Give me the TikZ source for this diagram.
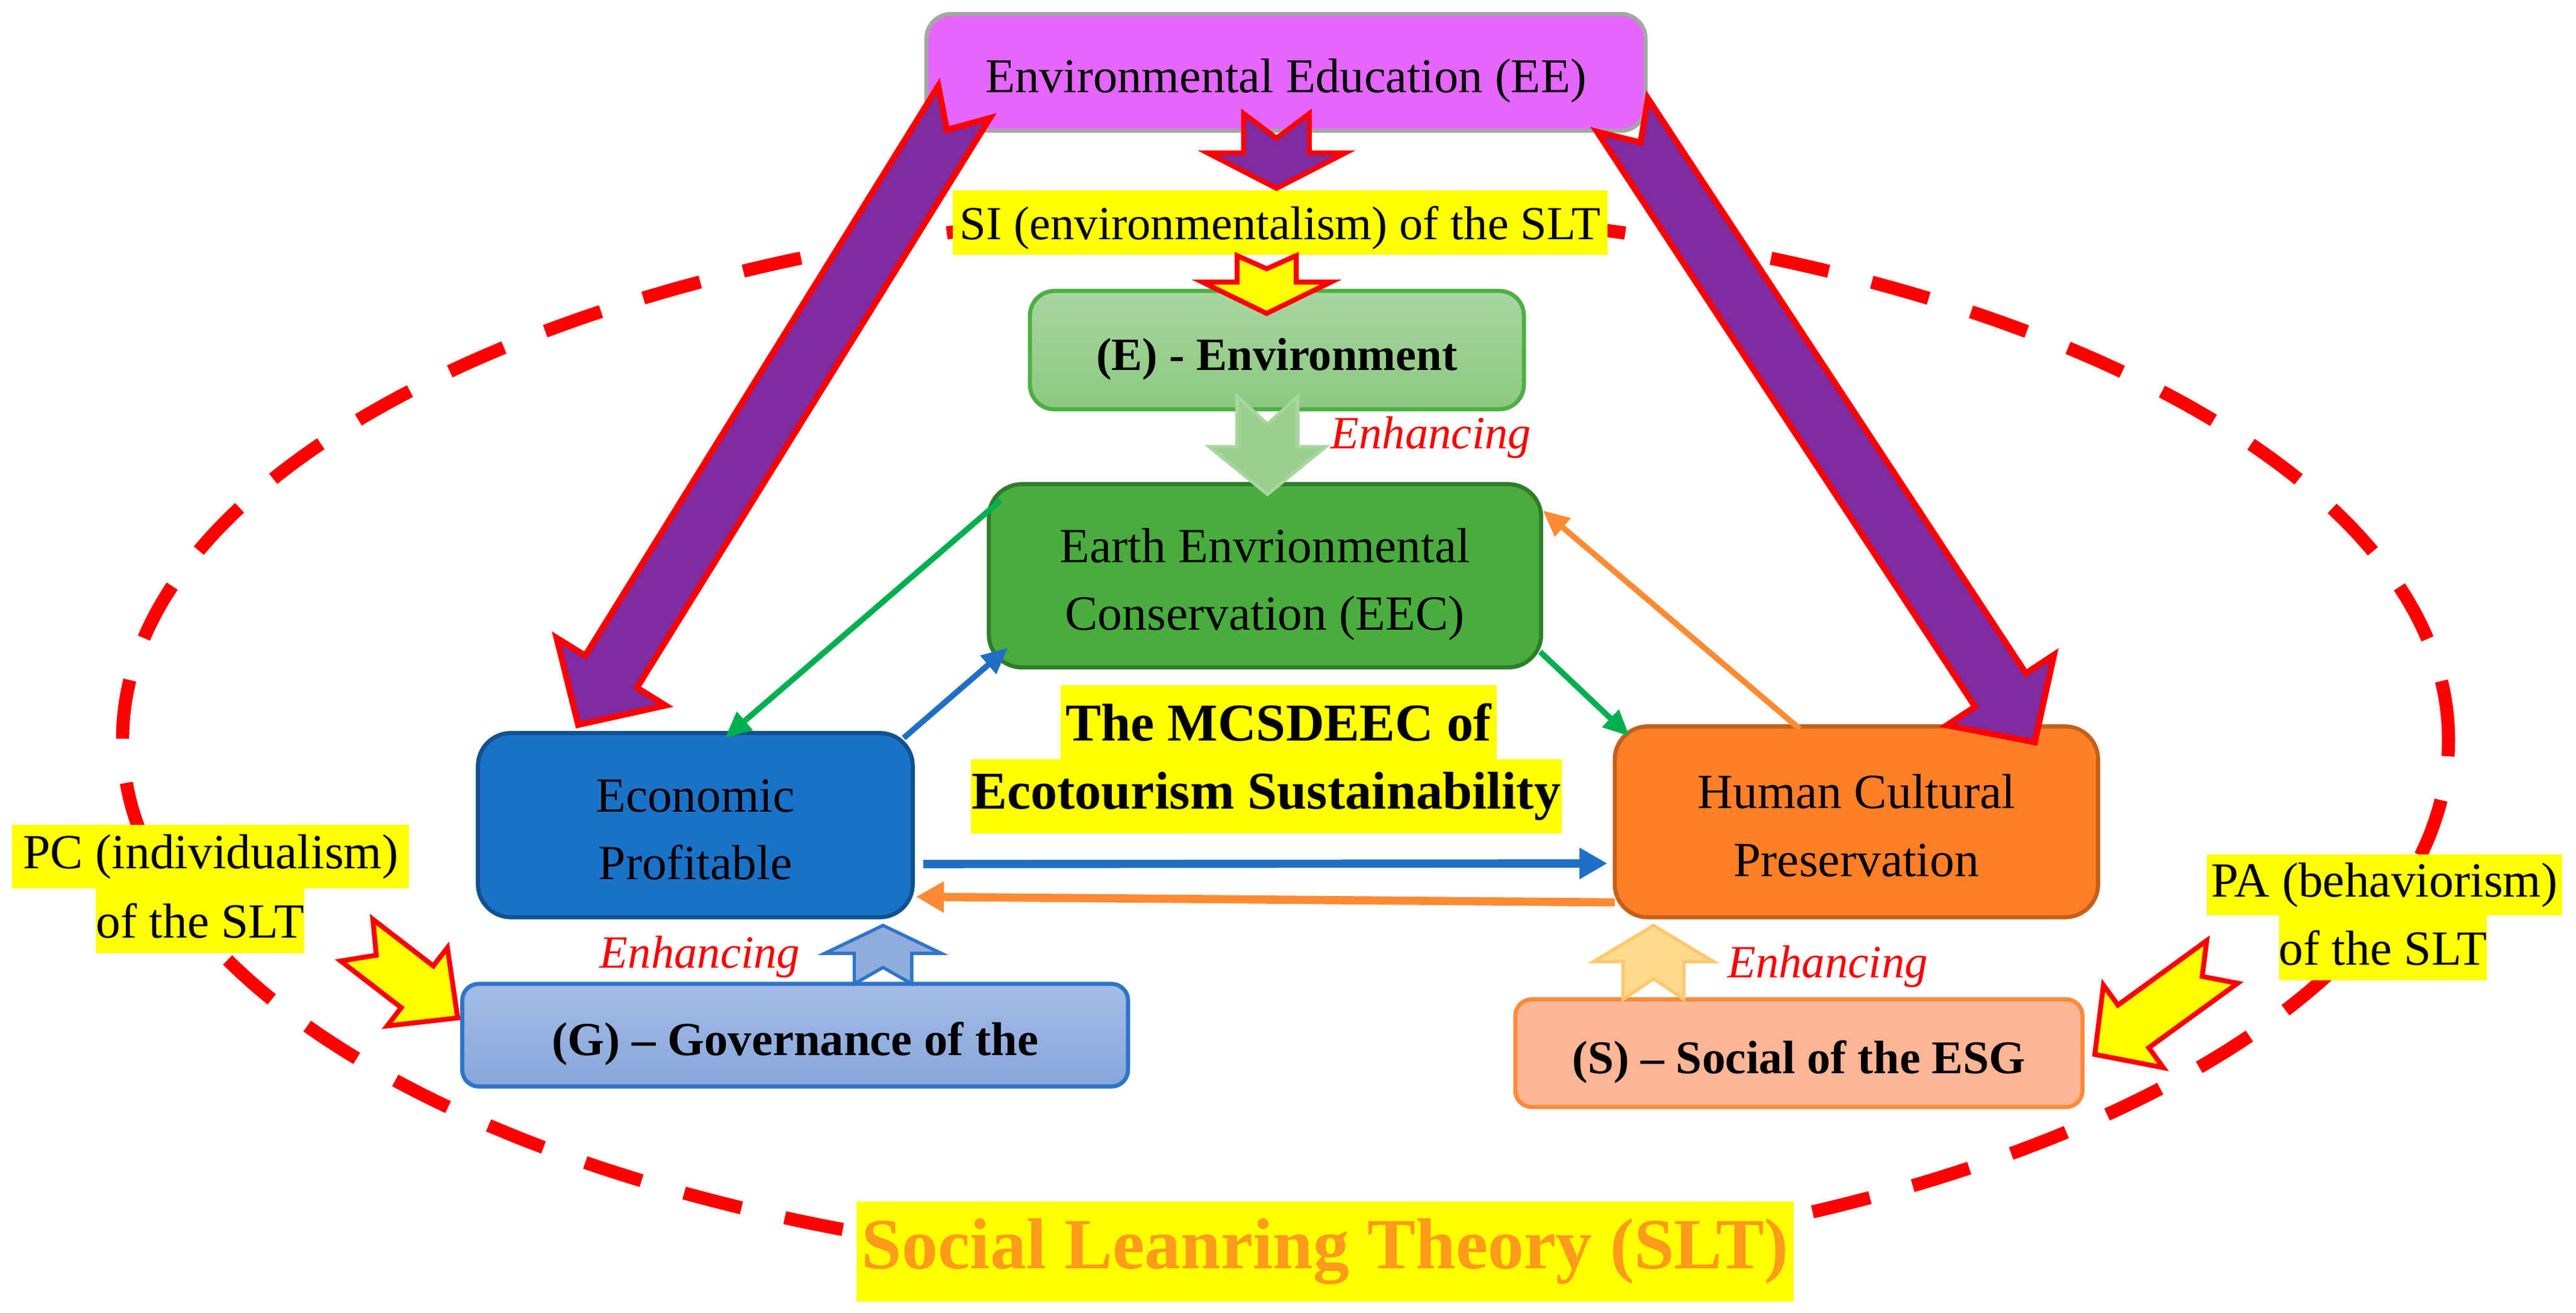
\documentclass[tikz,border=0pt]{standalone}
\usepackage{fontspec}
\IfFontExistsTF{LiberationSerif-Regular.ttf}
  {\setmainfont{LiberationSerif}[Extension=.ttf, UprightFont=*-Regular, BoldFont=*-Bold, ItalicFont=*-Italic, BoldItalicFont=*-BoldItalic]}
  {\setmainfont{Liberation Serif}}
\usepackage{tikz}
\usetikzlibrary{positioning,calc,arrows.meta}

\definecolor{eefill}{HTML}{E466FC}
\definecolor{eeline}{HTML}{A6A6A6}
\definecolor{arrpurple}{HTML}{7E2CA0}
\definecolor{hlyellow}{HTML}{FFFF00}
\definecolor{envtop}{HTML}{A9D5A0}
\definecolor{envbottom}{HTML}{8BC97F}
\definecolor{envline}{HTML}{4CAF43}
\definecolor{envarrow}{HTML}{9BCF8E}
\definecolor{eecfill}{HTML}{48AD3C}
\definecolor{eecline}{HTML}{2E7D2A}
\definecolor{econfill}{HTML}{1A72C8}
\definecolor{econline}{HTML}{10528F}
\definecolor{humfill}{HTML}{FF7F27}
\definecolor{humline}{HTML}{C5601A}
\definecolor{govtop}{HTML}{A4BCE5}
\definecolor{govbottom}{HTML}{87A6DB}
\definecolor{govline}{HTML}{2E75C9}
\definecolor{socfill}{HTML}{FDB596}
\definecolor{socline}{HTML}{FF8A3A}
\definecolor{govarrow}{HTML}{90ACDD}
\definecolor{socarrow}{HTML}{FFD98C}
\definecolor{lngreen}{HTML}{00B050}
\definecolor{lnblue}{HTML}{1F6FC6}
\definecolor{lnorange}{HTML}{FF8A33}
\definecolor{sltorange}{HTML}{FF9A1A}

\tikzstyle{box} = [rectangle, rounded corners=0.15cm, inner sep=0pt, outer sep=0pt, align=center, line width=0.025cm, text height=7pt, text depth=0pt, font=\fontsize{8.5}{11.7}\selectfont]
\tikzstyle{box2} = [box, rounded corners=0.2cm, text height=18.8pt, text depth=0pt]
\tikzstyle{hl} = [rectangle, fill=hlyellow, inner sep=0pt, outer sep=0pt, font=\fontsize{8.5}{11}\selectfont]
\tikzstyle{enh} = [inner sep=0pt, text=red, font=\fontsize{8}{9}\selectfont\itshape]
\tikzstyle{link} = [line width=0.035cm, -{Triangle[length=0.16cm,width=0.14cm]}]
\tikzstyle{wide link} = [line width=0.05cm, -{Triangle[length=0.17cm,width=0.18cm]}]
\tikzstyle{ring} = [red, line width=0.08cm, dash pattern=on 0.36cm off 0.27cm]
\tikzstyle{bigarr} = [fill=arrpurple, draw=red, line width=0.037cm]
\tikzstyle{smallarr} = [draw=red, line width=0.03cm]

% block arrow with notched tail: style, tail, tip, half shaft, half head, head length, notch
\newcommand{\blockarrow}[7]{%
  \coordinate (ba) at ($(#3)!#6!(#2)$);
  \draw[#1] ($(#2)!#4!90:(#3)$) -- ($(#2)!#7!(#3)$) -- ($(#2)!#4!-90:(#3)$)
    -- ($(ba)!#4!-90:(#3)$) -- ($(ba)!#5!-90:(#3)$) -- (#3)
    -- ($(ba)!#5!90:(#3)$) -- ($(ba)!#4!90:(#3)$) -- cycle;}

\begin{document}
\begin{tikzpicture}[x=0.01cm, y=-0.01cm]
    \useasboundingbox (0,0) rectangle (1568,798.5);
    \draw[ring] (782.5,450) ellipse [x radius=7.075cm, y radius=3.22cm];

    \node (ee) [box, fill=eefill, draw=eeline, minimum width=4.375cm, minimum height=0.71cm, font=\fontsize{8.4}{10}\selectfont] at (782.75,44) {Environmental Education (EE)};
    \node (si) [hl, minimum width=3.985cm, minimum height=0.39cm, text height=6.6pt, text depth=0.8pt, font=\fontsize{8.2}{10}\selectfont] at (779.25,135.5) {SI (environmentalism) of the SLT};
    \node (env) [box, top color=envtop, bottom color=envbottom, draw=envline, minimum width=3.005cm, minimum height=0.72cm, font=\fontsize{8}{10}\selectfont\bfseries] at (777.25,213) {(E) - Environment};
    \node (eec) [box2, fill=eecfill, draw=eecline, minimum width=3.36cm, minimum height=1.114cm] at (770,350.3) {Earth Envrionmental\\Conservation (EEC)};
    \node (mcs1) [hl, minimum width=2.655cm, minimum height=0.45cm, font=\fontsize{9.2}{11}\selectfont\bfseries] at (778.25,439.5) {The MCSDEEC of};
    \node (mcs2) [hl, minimum width=3.595cm, minimum height=0.45cm, font=\fontsize{9.2}{11}\selectfont\bfseries] at (770.75,484.5) {Ecotourism Sustainability};
    \node (econ) [box2, fill=econfill, draw=econline, minimum width=2.645cm, minimum height=1.12cm] at (423.25,502) {Economic\\Profitable};
    \node (hum) [box2, fill=humfill, draw=humline, minimum width=2.94cm, minimum height=1.16cm] at (1130,500) {Human Cultural\\Preservation};
    \node (gov) [box, top color=govtop, bottom color=govbottom, draw=govline, rounded corners=0.1cm, minimum width=4.05cm, minimum height=0.624cm, font=\fontsize{8.2}{10}\selectfont\bfseries] at (484,629.8) {(G) – Governance of the};
    \node (soc) [box, fill=socfill, draw=socline, rounded corners=0.1cm, minimum width=3.45cm, minimum height=0.655cm, font=\fontsize{8.1}{10}\selectfont\bfseries] at (1095,640.75) {(S) – Social of the ESG};
    \node (pc1) [hl, minimum width=2.415cm, minimum height=0.385cm] at (128.25,521.25) {PC (individualism)};
    \node (pc2) [hl, minimum width=1.224cm, minimum height=0.395cm] at (121.8,560.25) {of the SLT};
    \node (pa1) [hl, minimum width=2.16cm, minimum height=0.37cm] at (1451.5,538.5) {PA (behaviorism)};
    \node (pa2) [hl, minimum width=1.23cm, minimum height=0.395cm] at (1450.5,576.75) {of the SLT};
    \node (slt) [hl, minimum width=5.7cm, minimum height=0.61cm, text=sltorange, font=\fontsize{12.5}{14}\selectfont\bfseries] at (806.5,761.5) {Social Leanring Theory (SLT)};

    \node (enh1) [enh] at (871,266) {Enhancing};
    \node (enh2) [enh] at (426,582) {Enhancing};
    \node (enh3) [enh] at (1112.5,588) {Enhancing};

    % block arrows
    \coordinate (ltail) at ($(ee.south west)+(23,-17.5)$);
    \coordinate (lhead) at ($(econ.north west)+(61,-5)$);
    \coordinate (rtail) at ($(ee.south east)+(-14,-9.5)$);
    \coordinate (rhead) at ($(hum.north east)+(-38.5,9.6)$);
    \blockarrow{bigarr}{ltail}{lhead}{0.185cm}{0.39cm}{0.38cm}{0.2cm}
    \blockarrow{bigarr}{rtail}{rhead}{0.185cm}{0.39cm}{0.38cm}{0.2cm}
    \coordinate (sitail) at ($(ee.south)+(-5.75,-10.5)$);
    \coordinate (sihead) at ($(si.north)+(-2.25,-1.4)$);
    \blockarrow{smallarr, fill=arrpurple}{sitail}{sihead}{0.2cm}{0.42cm}{0.216cm}{0.15cm}
    \coordinate (etail) at ($(si.south)+(-8.25,0.5)$);
    \coordinate (ehead) at ($(env.north)+(-6.25,13.7)$);
    \blockarrow{smallarr, fill=hlyellow}{etail}{ehead}{0.18cm}{0.39cm}{0.19cm}{0.08cm}
    \coordinate (ctail) at ($(env.south)+(-5.75,-8)$);
    \coordinate (chead) at ($(eec.north)+(1.5,6.2)$);
    \blockarrow{fill=envarrow, draw=envtop, line width=0.02cm}{ctail}{chead}{0.185cm}{0.355cm}{0.29cm}{0.17cm}
    \coordinate (gtail) at ($(gov.north)+(53.5,0)$);
    \coordinate (ghead) at ($(econ.south)+(114.25,5)$);
    \blockarrow{fill=govarrow, draw=govline, line width=0.02cm}{gtail}{ghead}{0.175cm}{0.355cm}{0.17cm}{0.1cm}
    \coordinate (stail) at ($(soc.north)+(-88.5,0)$);
    \coordinate (shead) at ($(hum.south)+(-123.5,5)$);
    \blockarrow{fill=socarrow, draw=socarrow!80!orange, line width=0.02cm}{stail}{shead}{0.185cm}{0.365cm}{0.22cm}{0.125cm}
    \coordinate (pctail) at ($(pc2.east)+(32,11.75)$);
    \coordinate (pchead) at ($(gov.west)+(-2.8,-10.5)$);
    \blockarrow{smallarr, fill=hlyellow}{pctail}{pchead}{0.16cm}{0.3cm}{0.31cm}{0.15cm}
    \coordinate (patail) at ($(pa2.west)+(-34.5,8.5)$);
    \coordinate (pahead) at ($(soc.east)+(7.5,0.75)$);
    \blockarrow{smallarr, fill=hlyellow}{patail}{pahead}{0.16cm}{0.31cm}{0.29cm}{0.15cm}

    % links
    \draw[link, lngreen] ($(eec.north west)+(7,10)$) -- ($(econ.north)+(18,3)$);
    \draw[link, lnblue] ($(econ.north east)+(-5.5,3)$) -- ($(eec.south west)+(11.7,-12)$);
    \draw[link, lngreen] ($(eec.south east)+(-0.6,-9.5)$) -- ($(hum.north west)+(9,6)$);
    \draw[link, lnorange] ($(hum.north)+(-34.5,1.5)$) -- ($(eec.north east)+(1,16)$);
    \draw[wide link, lnblue] ($(econ.east)+(6.5,23.7)$) -- ($(hum.west)+(-4.5,25.3)$);
    \draw[wide link, lnorange] ($(hum.west)+(0,49)$) -- ($(econ.east)+(2,43.6)$);
\end{tikzpicture}
\end{document}
